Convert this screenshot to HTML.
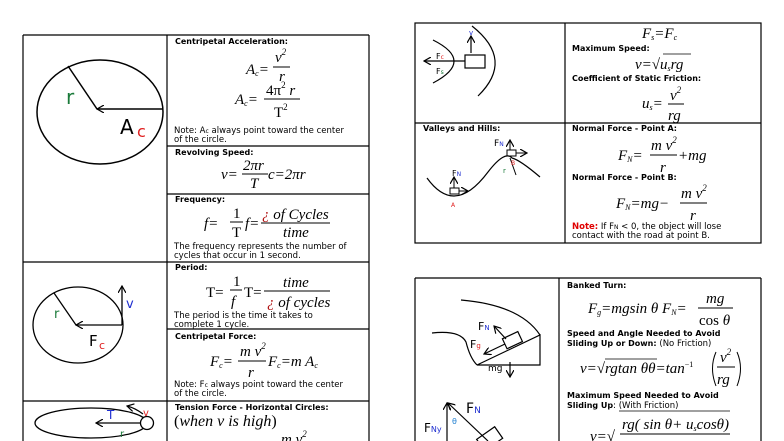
<!DOCTYPE html>
<html><head><meta charset="utf-8"><style>
html,body{margin:0;padding:0;background:#fff;width:784px;height:441px;overflow:hidden}
svg{display:block}
.b{font-family:"DejaVu Sans",sans-serif;font-weight:bold;font-size:8px;fill:#000}
.n{font-family:"DejaVu Sans",sans-serif;font-size:8.5px;fill:#000}
.m{font-family:"Liberation Serif",serif;font-style:italic;font-size:15px;fill:#000}
.u{font-family:"Liberation Serif",serif;font-size:15px;fill:#000}
.s{font-family:"Liberation Serif",serif;font-style:italic;font-size:8px;fill:#000}
.d{font-family:"DejaVu Sans",sans-serif;font-size:20px}
.ds{font-family:"DejaVu Sans",sans-serif;font-size:10px}
</style></head><body>
<svg width="784" height="441" viewBox="0 0 784 441" xmlns="http://www.w3.org/2000/svg">
<defs><marker id="ah" markerWidth="8" markerHeight="8" refX="7" refY="4" orient="auto" markerUnits="userSpaceOnUse"><path d="M0,0 L7,4 L0,8" fill="none" stroke="#000" stroke-width="1.2"/></marker></defs>
<g stroke="#000" stroke-width="1.2" fill="none">
<line x1="23" y1="35" x2="369" y2="35"/>
<line x1="23" y1="35" x2="23" y2="441"/>
<line x1="167" y1="35" x2="167" y2="441"/>
<line x1="369" y1="35" x2="369" y2="441"/>
<line x1="167" y1="146" x2="369" y2="146"/>
<line x1="167" y1="194" x2="369" y2="194"/>
<line x1="23" y1="262" x2="369" y2="262"/>
<line x1="167" y1="329" x2="369" y2="329"/>
<line x1="23" y1="401" x2="369" y2="401"/>
<rect x="415" y="23" width="346" height="220"/>
<line x1="565" y1="23" x2="565" y2="243"/>
<line x1="415" y1="123" x2="761" y2="123"/>
<line x1="415" y1="278" x2="761" y2="278"/>
<line x1="415" y1="278" x2="415" y2="441"/>
<line x1="559" y1="278" x2="559" y2="441"/>
<line x1="761" y1="278" x2="761" y2="441"/>
</g>

<!-- diagram 1 -->
<g stroke="#000" stroke-width="1.5" fill="none">
<ellipse cx="100" cy="112" rx="63" ry="52"/>
<line x1="68" y1="66" x2="97" y2="109"/>
<line x1="163" y1="109" x2="97" y2="109" marker-end="url(#ah)"/>
</g>
<text x="66" y="104" class="d" fill="#1a7a3a">r</text>
<text x="120" y="134" class="d" fill="#000">A</text><text x="137" y="137" class="d" fill="#e02020" style="font-size:16px">c</text>

<!-- diagram 2 -->
<g stroke="#000" stroke-width="1.3" fill="none">
<ellipse cx="78" cy="325" rx="45" ry="38"/>
<line x1="54" y1="293" x2="76" y2="325"/>
<line x1="122" y1="325" x2="76" y2="325" marker-end="url(#ah)"/>
<line x1="122" y1="325" x2="122" y2="286" marker-end="url(#ah)"/>
</g>
<text x="54" y="318" class="ds" fill="#1a7a3a" style="font-size:13px">r</text>
<text x="126" y="308" class="ds" fill="#1f2fd0" style="font-size:13px">v</text>
<text x="89" y="346" class="ds" style="font-size:15px">F</text><text x="99" y="349" class="ds" fill="#e02020" style="font-size:11px">c</text>

<!-- diagram 3 -->
<g stroke="#000" stroke-width="1.3" fill="none">
<ellipse cx="91" cy="423" rx="56" ry="15"/>
<circle cx="147" cy="423" r="6.5" fill="#fff"/>
<line x1="140" y1="423" x2="96" y2="423" marker-end="url(#ah)"/>
<path d="M143,414 Q135,408 127,406" marker-end="url(#ah)"/>
</g>
<text x="107" y="419" class="ds" fill="#1f2fd0" style="font-size:12px">T</text>
<text x="120" y="437" class="ds" fill="#1a7a3a">r</text>
<text x="143" y="416" class="ds" fill="#e02020">v</text>

<!-- left text -->
<text x="175" y="44" class="b">Centripetal Acceleration:</text>
<text x="246" y="74" class="m">A<tspan class="s" dy="2">c</tspan><tspan dy="-2" class="u">=</tspan></text>
<text x="275" y="62" class="m">v<tspan style="font-size:9px" dy="-7">2</tspan></text>
<line x1="273" y1="67" x2="290" y2="67" stroke="#000" stroke-width="1"/>
<text x="279" y="81" class="m">r</text>
<text x="235" y="104" class="m">A<tspan class="s" dy="2">c</tspan><tspan dy="-2" class="u">=</tspan></text>
<text x="266" y="95" class="u">4π<tspan style="font-size:9px" dy="-7">2</tspan><tspan dy="7" font-style="italic"> r</tspan></text>
<line x1="264" y1="99" x2="300" y2="99" stroke="#000" stroke-width="1"/>
<text x="274" y="117" class="u">T<tspan style="font-size:9px" dy="-7">2</tspan></text>
<text x="174" y="133" class="n">Note:  A<tspan style="font-size:6px">c</tspan> always point toward the center</text>
<text x="174" y="142" class="n">of the circle.</text>

<text x="175" y="155" class="b">Revolving Speed:</text>
<text x="221" y="179" class="m">v<tspan class="u">=</tspan></text>
<text x="243" y="170" class="m">2πr</text>
<line x1="242" y1="174" x2="268" y2="174" stroke="#000" stroke-width="1"/>
<text x="250" y="188" class="m">T</text>
<text x="268" y="179" class="m">c<tspan class="u">=</tspan>2πr</text>

<text x="175" y="202" class="b">Frequency:</text>
<text x="204" y="228" class="m">f<tspan class="u">=</tspan></text>
<text x="233" y="218" class="u">1</text>
<line x1="230" y1="222" x2="243" y2="222" stroke="#000" stroke-width="1"/>
<text x="232" y="237" class="u">T</text>
<text x="245" y="228" class="m">f<tspan class="u">=</tspan></text>
<text x="262" y="219" class="m"><tspan fill="#b01010">¿</tspan> of Cycles</text>
<line x1="261" y1="223" x2="330" y2="223" stroke="#000" stroke-width="1"/>
<text x="283" y="237" class="m">time</text>
<text x="174" y="249" class="n">The frequency represents the number of</text>
<text x="174" y="258" class="n">cycles that occur in 1 second.</text>

<text x="175" y="270" class="b">Period:</text>
<text x="206" y="297" class="u">T=</text>
<text x="233" y="286" class="u">1</text>
<line x1="230" y1="290" x2="242" y2="290" stroke="#000" stroke-width="1"/>
<text x="231" y="306" class="m">f</text>
<text x="244" y="297" class="u">T=</text>
<text x="283" y="287" class="m">time</text>
<line x1="264" y1="291" x2="330" y2="291" stroke="#000" stroke-width="1"/>
<text x="267" y="307" class="m"><tspan fill="#b01010">¿</tspan> of cycles</text>
<text x="174" y="318" class="n">The period is the time it takes to</text>
<text x="174" y="327" class="n">complete 1 cycle.</text>

<text x="175" y="339" class="b">Centripetal Force:</text>
<text x="210" y="366" class="m">F<tspan class="s" dy="2">c</tspan><tspan dy="-2" class="u">=</tspan></text>
<text x="240" y="356" class="m">m v<tspan style="font-size:9px" dy="-7">2</tspan></text>
<line x1="238" y1="361" x2="266" y2="361" stroke="#000" stroke-width="1"/>
<text x="248" y="377" class="m">r</text>
<text x="268" y="366" class="m">F<tspan class="s" dy="2">c</tspan><tspan dy="-2" class="u">=</tspan>m A<tspan class="s" dy="2">c</tspan></text>
<text x="174" y="387" class="n">Note:  F<tspan style="font-size:6px">c</tspan> always point toward the center</text>
<text x="174" y="396" class="n">of the circle.</text>

<text x="175" y="410" class="b">Tension Force - Horizontal Circles:</text>
<text x="174" y="426" class="m" style="font-size:16px"><tspan font-style="normal">(</tspan>when v is high<tspan font-style="normal">)</tspan></text>
<text x="281" y="444" class="m">m v<tspan style="font-size:9px" dy="-7">2</tspan></text>

<!-- top right diagram -->
<g stroke="#000" stroke-width="1.2" fill="none">
<path d="M433,40 Q475,61 433,83"/>
<path d="M472,26 Q515,60 478,96"/>
<rect x="465" y="55" width="20" height="13"/>
<line x1="471" y1="53" x2="471" y2="36" marker-end="url(#ah)"/>
<line x1="465" y1="61" x2="424" y2="61" marker-end="url(#ah)"/>
</g>
<text x="469" y="35" class="ds" fill="#1f2fd0" style="font-size:7px">v</text>
<text x="436" y="59" class="ds" style="font-size:8px">F<tspan fill="#e02020" style="font-size:6px">c</tspan></text>
<text x="436" y="74" class="ds" style="font-size:8px">F<tspan fill="#1a7a3a" style="font-size:6px">s</tspan></text>

<text x="642" y="38" class="m">F<tspan class="s" dy="2">s</tspan><tspan dy="-2" class="u">=</tspan>F<tspan class="s" dy="2">c</tspan></text>
<text x="572" y="51" class="b">Maximum Speed:</text>
<text x="635" y="69" class="m">v<tspan class="u">=√</tspan>u<tspan class="s" dy="2">s</tspan><tspan dy="-2">rg</tspan></text>
<line x1="663" y1="54" x2="691" y2="54" stroke="#000" stroke-width="0.8"/>
<text x="572" y="81" class="b">Coefficient of Static Friction:</text>
<text x="642" y="108" class="m">u<tspan class="s" dy="2">s</tspan><tspan dy="-2" class="u">=</tspan></text>
<text x="670" y="100" class="m">v<tspan style="font-size:9px" dy="-7">2</tspan></text>
<line x1="668" y1="104" x2="684" y2="104" stroke="#000" stroke-width="1"/>
<text x="668" y="120" class="m">rg</text>

<!-- valleys -->
<text x="423" y="131" class="b">Valleys and Hills:</text>
<path d="M427,178 Q440,196 454,196 Q470,196 488,172 Q505,150 512,158 Q520,160 540,177" fill="none" stroke="#000" stroke-width="1.2"/>
<rect x="450" y="188" width="9" height="6" fill="none" stroke="#000" stroke-width="1"/>
<line x1="454" y1="188" x2="454" y2="177" stroke="#000" stroke-width="1" marker-end="url(#ah)"/>
<line x1="459" y1="191" x2="468" y2="191" stroke="#000" stroke-width="1" marker-end="url(#ah)"/>
<rect x="507" y="150" width="9" height="6" fill="none" stroke="#000" stroke-width="1"/>
<line x1="510" y1="150" x2="510" y2="140" stroke="#000" stroke-width="1" marker-end="url(#ah)"/>
<line x1="516" y1="153" x2="527" y2="153" stroke="#000" stroke-width="1" marker-end="url(#ah)"/>
<line x1="510" y1="158" x2="516" y2="175" stroke="#000" stroke-width="1"/>
<text x="452" y="176" class="ds" style="font-size:8px">F<tspan fill="#1f2fd0" style="font-size:6px">N</tspan></text>
<text x="494" y="146" class="ds" style="font-size:9px">F<tspan fill="#1f2fd0" style="font-size:6px">N</tspan></text>
<text x="451" y="207" class="ds" fill="#e02020" style="font-size:6px">A</text>
<text x="511" y="165" class="ds" fill="#e02020" style="font-size:6px">B</text>
<text x="503" y="173" class="ds" fill="#1a7a3a" style="font-size:7px">r</text>

<text x="572" y="131" class="b">Normal Force - Point A:</text>
<text x="618" y="160" class="m">F<tspan class="s" dy="2">N</tspan><tspan dy="-2" class="u">=</tspan></text>
<text x="651" y="150" class="m">m v<tspan style="font-size:9px" dy="-7">2</tspan></text>
<line x1="650" y1="155" x2="677" y2="155" stroke="#000" stroke-width="1"/>
<text x="660" y="172" class="m">r</text>
<text x="678" y="160" class="m"><tspan class="u">+</tspan>mg</text>
<text x="572" y="180" class="b">Normal Force - Point B:</text>
<text x="616" y="208" class="m">F<tspan class="s" dy="2">N</tspan><tspan dy="-2" class="u">=</tspan>mg<tspan class="u">−</tspan></text>
<text x="681" y="198" class="m">m v<tspan style="font-size:9px" dy="-7">2</tspan></text>
<line x1="680" y1="203" x2="707" y2="203" stroke="#000" stroke-width="1"/>
<text x="690" y="220" class="m">r</text>
<text x="572" y="229" class="n"><tspan fill="#e00000" font-weight="bold">Note:</tspan>  If F<tspan style="font-size:6px">N</tspan> &lt; 0, the object will lose</text>
<text x="572" y="238" class="n">contact with the road at point B.</text>

<!-- banked diagram -->
<g stroke="#000" stroke-width="1.2" fill="none">
<path d="M461,300 Q520,305 540,335"/>
<path d="M432,333 Q460,330 466,342 Q470,358 477,365"/>
<path d="M477,365 L540,335 L540,365 Z" />
<g transform="rotate(-25 514 340)"><rect x="504" y="334" width="17" height="11"/></g>
<line x1="506" y1="339" x2="494" y2="326" marker-end="url(#ah)"/>
<line x1="505" y1="344" x2="484" y2="354" marker-end="url(#ah)"/>
<line x1="510" y1="362" x2="510" y2="377" marker-end="url(#ah)"/>
<line x1="447" y1="441" x2="447" y2="403" marker-end="url(#ah)"/>
<line x1="488" y1="441" x2="448" y2="403" marker-end="url(#ah)"/>
<g transform="rotate(-35 490 441)"><rect x="480" y="432" width="22" height="14"/></g>
</g>
<text x="478" y="330" class="ds" style="font-size:11px">F<tspan fill="#1f2fd0" style="font-size:7px">N</tspan></text>
<text x="470" y="348" class="ds" style="font-size:11px">F<tspan fill="#e02020" style="font-size:7px">g</tspan></text>
<text x="488" y="371" class="ds" style="font-size:9px">mg</text>
<text x="466" y="413" class="ds" style="font-size:14px">F<tspan fill="#1f2fd0" style="font-size:9px">N</tspan></text>
<text x="424" y="432" class="ds" style="font-size:12px">F<tspan fill="#1f2fd0" style="font-size:8px">Ny</tspan></text>
<text x="452" y="424" class="ds" fill="#1f7fd0" style="font-size:8px">θ</text>

<text x="567" y="288" class="b">Banked Turn:</text>
<text x="588" y="313" class="m">F<tspan class="s" dy="2">g</tspan><tspan dy="-2" class="u">=</tspan>mg<tspan class="u">sin</tspan> θ F<tspan class="s" dy="2">N</tspan><tspan dy="-2" class="u">=</tspan></text>
<text x="706" y="303" class="m">mg</text>
<line x1="698" y1="308" x2="733" y2="308" stroke="#000" stroke-width="1"/>
<text x="699" y="325" class="u">cos <tspan font-style="italic">θ</tspan></text>
<text x="567" y="336" class="b">Speed and Angle Needed to Avoid</text>
<text x="567" y="346" class="b">Sliding Up or Down: <tspan class="n" font-weight="normal">(No Friction)</tspan></text>
<text x="580" y="373" class="m">v<tspan class="u">=√</tspan>rg<tspan class="u">tan</tspan> θθ<tspan class="u">=tan</tspan><tspan style="font-size:8px" dy="-6" font-style="normal">−1</tspan></text>
<line x1="605" y1="359" x2="657" y2="359" stroke="#000" stroke-width="0.8"/>
<path d="M716,352 Q709,368 716,386" fill="none" stroke="#000" stroke-width="1"/>
<path d="M737,352 Q744,368 737,386" fill="none" stroke="#000" stroke-width="1"/>
<text x="720" y="362" class="m">v<tspan style="font-size:9px" dy="-7">2</tspan></text>
<line x1="717" y1="367" x2="735" y2="367" stroke="#000" stroke-width="1"/>
<text x="717" y="384" class="m">rg</text>
<text x="567" y="398" class="b">Maximum Speed Needed to Avoid</text>
<text x="567" y="408" class="b">Sliding Up<tspan class="n" font-weight="normal">:  (With Friction)</tspan></text>
<text x="590" y="441" class="m">v<tspan class="u">=√</tspan></text>
<line x1="619" y1="411" x2="730" y2="411" stroke="#000" stroke-width="0.8"/>
<text x="622" y="429" class="m">rg<tspan class="u">( sin</tspan> θ<tspan class="u">+</tspan> u<tspan class="s" dy="2">s</tspan><tspan dy="-2" class="u">cos</tspan>θ<tspan class="u">)</tspan></text>
<line x1="620" y1="434" x2="730" y2="434" stroke="#000" stroke-width="1"/>
</svg>
</body></html>
